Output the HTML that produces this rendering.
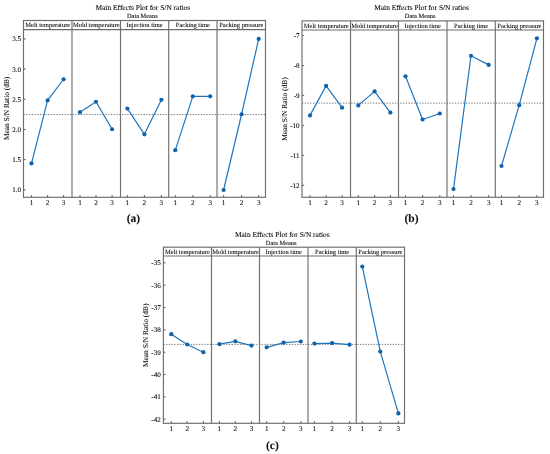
<!DOCTYPE html>
<html><head><meta charset="utf-8"><title>Main Effects Plots for S/N ratios</title>
<style>html,body{margin:0;padding:0;background:#fff;}svg{display:block;}text{text-rendering:geometricPrecision;stroke:#000;stroke-width:0.07px;}</style></head>
<body><svg width="550" height="454" viewBox="0 0 550 454" style="font-family:'Liberation Serif', 'Times New Roman', serif">
<rect width="550" height="454" fill="#fff"/>
<g id="plot-a">
<text x="142.8" y="10.3" font-size="7.45" text-anchor="middle" fill="#000">Main Effects Plot for S/N ratios</text>
<text x="142.3" y="17.6" font-size="6.4" text-anchor="middle" fill="#000">Data Means</text>
<text transform="translate(8.8,108.4) rotate(-90)" font-size="7.4" text-anchor="middle" fill="#000">Mean S/N Ratio (dB)</text>
<line x1="23.5" y1="114.55" x2="265.5" y2="114.55" stroke="#6a6a6a" stroke-width="0.9" stroke-dasharray="1.35 1.38"/>
<line x1="72" y1="20.5" x2="72" y2="197.3" stroke="#707070" stroke-width="1.15"/>
<line x1="120.5" y1="20.5" x2="120.5" y2="197.3" stroke="#707070" stroke-width="1.15"/>
<line x1="168.7" y1="20.5" x2="168.7" y2="197.3" stroke="#707070" stroke-width="1.15"/>
<line x1="217" y1="20.5" x2="217" y2="197.3" stroke="#707070" stroke-width="1.15"/>
<line x1="23.5" y1="29.6" x2="265.5" y2="29.6" stroke="#6c6c6c" stroke-width="1.15"/>
<rect x="23.5" y="20.5" width="242" height="176.8" fill="none" stroke="#6c6c6c" stroke-width="1.15"/>
<text x="47.75" y="27.3" font-size="6.5" text-anchor="middle" fill="#000">Melt temperature</text>
<text x="96.25" y="27.3" font-size="6.5" text-anchor="middle" fill="#000">Mold temperature</text>
<text x="144.6" y="27.3" font-size="6.5" text-anchor="middle" fill="#000">Injection time</text>
<text x="192.85" y="27.3" font-size="6.5" text-anchor="middle" fill="#000">Packing time</text>
<text x="241.25" y="27.3" font-size="6.5" text-anchor="middle" fill="#000">Packing pressure</text>
<line x1="23.5" y1="38.9" x2="25.7" y2="38.9" stroke="#6c6c6c" stroke-width="1.1"/>
<text x="21" y="41.3" font-size="7.1" text-anchor="end" fill="#000">3.5</text>
<line x1="23.5" y1="69.1" x2="25.7" y2="69.1" stroke="#6c6c6c" stroke-width="1.1"/>
<text x="21" y="71.5" font-size="7.1" text-anchor="end" fill="#000">3.0</text>
<line x1="23.5" y1="99.3" x2="25.7" y2="99.3" stroke="#6c6c6c" stroke-width="1.1"/>
<text x="21" y="101.7" font-size="7.1" text-anchor="end" fill="#000">2.5</text>
<line x1="23.5" y1="129.5" x2="25.7" y2="129.5" stroke="#6c6c6c" stroke-width="1.1"/>
<text x="21" y="131.9" font-size="7.1" text-anchor="end" fill="#000">2.0</text>
<line x1="23.5" y1="159.6" x2="25.7" y2="159.6" stroke="#6c6c6c" stroke-width="1.1"/>
<text x="21" y="162" font-size="7.1" text-anchor="end" fill="#000">1.5</text>
<line x1="23.5" y1="189.9" x2="25.7" y2="189.9" stroke="#6c6c6c" stroke-width="1.1"/>
<text x="21" y="192.3" font-size="7.1" text-anchor="end" fill="#000">1.0</text>
<line x1="31.5" y1="197.3" x2="31.5" y2="195.1" stroke="#6c6c6c" stroke-width="1.1"/>
<text x="31.5" y="205.2" font-size="7.2" text-anchor="middle" fill="#000">1</text>
<line x1="47.6" y1="197.3" x2="47.6" y2="195.1" stroke="#6c6c6c" stroke-width="1.1"/>
<text x="47.6" y="205.2" font-size="7.2" text-anchor="middle" fill="#000">2</text>
<line x1="63.6" y1="197.3" x2="63.6" y2="195.1" stroke="#6c6c6c" stroke-width="1.1"/>
<text x="63.6" y="205.2" font-size="7.2" text-anchor="middle" fill="#000">3</text>
<line x1="80" y1="197.3" x2="80" y2="195.1" stroke="#6c6c6c" stroke-width="1.1"/>
<text x="80" y="205.2" font-size="7.2" text-anchor="middle" fill="#000">1</text>
<line x1="96" y1="197.3" x2="96" y2="195.1" stroke="#6c6c6c" stroke-width="1.1"/>
<text x="96" y="205.2" font-size="7.2" text-anchor="middle" fill="#000">2</text>
<line x1="112.1" y1="197.3" x2="112.1" y2="195.1" stroke="#6c6c6c" stroke-width="1.1"/>
<text x="112.1" y="205.2" font-size="7.2" text-anchor="middle" fill="#000">3</text>
<line x1="127.4" y1="197.3" x2="127.4" y2="195.1" stroke="#6c6c6c" stroke-width="1.1"/>
<text x="127.4" y="205.2" font-size="7.2" text-anchor="middle" fill="#000">1</text>
<line x1="144.4" y1="197.3" x2="144.4" y2="195.1" stroke="#6c6c6c" stroke-width="1.1"/>
<text x="144.4" y="205.2" font-size="7.2" text-anchor="middle" fill="#000">2</text>
<line x1="161.4" y1="197.3" x2="161.4" y2="195.1" stroke="#6c6c6c" stroke-width="1.1"/>
<text x="161.4" y="205.2" font-size="7.2" text-anchor="middle" fill="#000">3</text>
<line x1="175.3" y1="197.3" x2="175.3" y2="195.1" stroke="#6c6c6c" stroke-width="1.1"/>
<text x="175.3" y="205.2" font-size="7.2" text-anchor="middle" fill="#000">1</text>
<line x1="192.8" y1="197.3" x2="192.8" y2="195.1" stroke="#6c6c6c" stroke-width="1.1"/>
<text x="192.8" y="205.2" font-size="7.2" text-anchor="middle" fill="#000">2</text>
<line x1="210.2" y1="197.3" x2="210.2" y2="195.1" stroke="#6c6c6c" stroke-width="1.1"/>
<text x="210.2" y="205.2" font-size="7.2" text-anchor="middle" fill="#000">3</text>
<line x1="223.6" y1="197.3" x2="223.6" y2="195.1" stroke="#6c6c6c" stroke-width="1.1"/>
<text x="223.6" y="205.2" font-size="7.2" text-anchor="middle" fill="#000">1</text>
<line x1="241.6" y1="197.3" x2="241.6" y2="195.1" stroke="#6c6c6c" stroke-width="1.1"/>
<text x="241.6" y="205.2" font-size="7.2" text-anchor="middle" fill="#000">2</text>
<line x1="258.7" y1="197.3" x2="258.7" y2="195.1" stroke="#6c6c6c" stroke-width="1.1"/>
<text x="258.7" y="205.2" font-size="7.2" text-anchor="middle" fill="#000">3</text>
<polyline points="31.5,163.45 47.6,100.45 63.6,79.25" fill="none" stroke="#2075bd" stroke-width="1.2" stroke-linejoin="round"/>
<circle cx="31.5" cy="163.45" r="2.1" fill="#0f63ad"/>
<circle cx="47.6" cy="100.45" r="2.1" fill="#0f63ad"/>
<circle cx="63.6" cy="79.25" r="2.1" fill="#0f63ad"/>
<polyline points="80,112.15 96,101.75 112.1,129.25" fill="none" stroke="#2075bd" stroke-width="1.2" stroke-linejoin="round"/>
<circle cx="80" cy="112.15" r="2.1" fill="#0f63ad"/>
<circle cx="96" cy="101.75" r="2.1" fill="#0f63ad"/>
<circle cx="112.1" cy="129.25" r="2.1" fill="#0f63ad"/>
<polyline points="127.4,108.55 144.4,134.35 161.4,99.75" fill="none" stroke="#2075bd" stroke-width="1.2" stroke-linejoin="round"/>
<circle cx="127.4" cy="108.55" r="2.1" fill="#0f63ad"/>
<circle cx="144.4" cy="134.35" r="2.1" fill="#0f63ad"/>
<circle cx="161.4" cy="99.75" r="2.1" fill="#0f63ad"/>
<polyline points="175.3,150.15 192.8,96.35 210.2,96.35" fill="none" stroke="#2075bd" stroke-width="1.2" stroke-linejoin="round"/>
<circle cx="175.3" cy="150.15" r="2.1" fill="#0f63ad"/>
<circle cx="192.8" cy="96.35" r="2.1" fill="#0f63ad"/>
<circle cx="210.2" cy="96.35" r="2.1" fill="#0f63ad"/>
<polyline points="223.6,190 241.6,114.25 258.7,38.9" fill="none" stroke="#2075bd" stroke-width="1.2" stroke-linejoin="round"/>
<circle cx="223.6" cy="190" r="2.1" fill="#0f63ad"/>
<circle cx="241.6" cy="114.25" r="2.1" fill="#0f63ad"/>
<circle cx="258.7" cy="38.9" r="2.1" fill="#0f63ad"/>
<text x="133.45" y="222.1" font-size="11.5" font-weight="bold" text-anchor="middle" fill="#111" stroke="none">(a)</text>
</g>
<g id="plot-b">
<text x="421.5" y="10.3" font-size="7.45" text-anchor="middle" fill="#000">Main Effects Plot for S/N ratios</text>
<text x="420.2" y="17.6" font-size="6.4" text-anchor="middle" fill="#000">Data Means</text>
<text transform="translate(287,109.1) rotate(-90)" font-size="7.4" text-anchor="middle" fill="#000">Mean S/N Ratio (dB)</text>
<line x1="302" y1="103.1" x2="543.5" y2="103.1" stroke="#6a6a6a" stroke-width="0.9" stroke-dasharray="1.35 1.38"/>
<line x1="350.5" y1="20.9" x2="350.5" y2="197.3" stroke="#707070" stroke-width="1.15"/>
<line x1="398.5" y1="20.9" x2="398.5" y2="197.3" stroke="#707070" stroke-width="1.15"/>
<line x1="447" y1="20.9" x2="447" y2="197.3" stroke="#707070" stroke-width="1.15"/>
<line x1="495.3" y1="20.9" x2="495.3" y2="197.3" stroke="#707070" stroke-width="1.15"/>
<line x1="302" y1="29.95" x2="543.5" y2="29.95" stroke="#6c6c6c" stroke-width="1.15"/>
<rect x="302" y="20.9" width="241.5" height="176.4" fill="none" stroke="#6c6c6c" stroke-width="1.15"/>
<text x="326.25" y="27.65" font-size="6.5" text-anchor="middle" fill="#000">Melt temperature</text>
<text x="374.5" y="27.65" font-size="6.5" text-anchor="middle" fill="#000">Mold temperature</text>
<text x="422.75" y="27.65" font-size="6.5" text-anchor="middle" fill="#000">Injection time</text>
<text x="471.15" y="27.65" font-size="6.5" text-anchor="middle" fill="#000">Packing time</text>
<text x="519.4" y="27.65" font-size="6.5" text-anchor="middle" fill="#000">Packing pressure</text>
<line x1="302" y1="35.6" x2="304.2" y2="35.6" stroke="#6c6c6c" stroke-width="1.1"/>
<text x="299.6" y="38" font-size="7.1" text-anchor="end" fill="#000">-7</text>
<line x1="302" y1="65.6" x2="304.2" y2="65.6" stroke="#6c6c6c" stroke-width="1.1"/>
<text x="299.6" y="68" font-size="7.1" text-anchor="end" fill="#000">-8</text>
<line x1="302" y1="95.5" x2="304.2" y2="95.5" stroke="#6c6c6c" stroke-width="1.1"/>
<text x="299.6" y="97.9" font-size="7.1" text-anchor="end" fill="#000">-9</text>
<line x1="302" y1="125.4" x2="304.2" y2="125.4" stroke="#6c6c6c" stroke-width="1.1"/>
<text x="299.6" y="127.8" font-size="7.1" text-anchor="end" fill="#000">-10</text>
<line x1="302" y1="155.3" x2="304.2" y2="155.3" stroke="#6c6c6c" stroke-width="1.1"/>
<text x="299.6" y="157.7" font-size="7.1" text-anchor="end" fill="#000">-11</text>
<line x1="302" y1="185.3" x2="304.2" y2="185.3" stroke="#6c6c6c" stroke-width="1.1"/>
<text x="299.6" y="187.7" font-size="7.1" text-anchor="end" fill="#000">-12</text>
<line x1="310" y1="197.3" x2="310" y2="195.1" stroke="#6c6c6c" stroke-width="1.1"/>
<text x="310" y="205.2" font-size="7.2" text-anchor="middle" fill="#000">1</text>
<line x1="326.1" y1="197.3" x2="326.1" y2="195.1" stroke="#6c6c6c" stroke-width="1.1"/>
<text x="326.1" y="205.2" font-size="7.2" text-anchor="middle" fill="#000">2</text>
<line x1="342.1" y1="197.3" x2="342.1" y2="195.1" stroke="#6c6c6c" stroke-width="1.1"/>
<text x="342.1" y="205.2" font-size="7.2" text-anchor="middle" fill="#000">3</text>
<line x1="358.3" y1="197.3" x2="358.3" y2="195.1" stroke="#6c6c6c" stroke-width="1.1"/>
<text x="358.3" y="205.2" font-size="7.2" text-anchor="middle" fill="#000">1</text>
<line x1="374.6" y1="197.3" x2="374.6" y2="195.1" stroke="#6c6c6c" stroke-width="1.1"/>
<text x="374.6" y="205.2" font-size="7.2" text-anchor="middle" fill="#000">2</text>
<line x1="390.4" y1="197.3" x2="390.4" y2="195.1" stroke="#6c6c6c" stroke-width="1.1"/>
<text x="390.4" y="205.2" font-size="7.2" text-anchor="middle" fill="#000">3</text>
<line x1="405.5" y1="197.3" x2="405.5" y2="195.1" stroke="#6c6c6c" stroke-width="1.1"/>
<text x="405.5" y="205.2" font-size="7.2" text-anchor="middle" fill="#000">1</text>
<line x1="422.6" y1="197.3" x2="422.6" y2="195.1" stroke="#6c6c6c" stroke-width="1.1"/>
<text x="422.6" y="205.2" font-size="7.2" text-anchor="middle" fill="#000">2</text>
<line x1="439.8" y1="197.3" x2="439.8" y2="195.1" stroke="#6c6c6c" stroke-width="1.1"/>
<text x="439.8" y="205.2" font-size="7.2" text-anchor="middle" fill="#000">3</text>
<line x1="453.5" y1="197.3" x2="453.5" y2="195.1" stroke="#6c6c6c" stroke-width="1.1"/>
<text x="453.5" y="205.2" font-size="7.2" text-anchor="middle" fill="#000">1</text>
<line x1="471" y1="197.3" x2="471" y2="195.1" stroke="#6c6c6c" stroke-width="1.1"/>
<text x="471" y="205.2" font-size="7.2" text-anchor="middle" fill="#000">2</text>
<line x1="488.7" y1="197.3" x2="488.7" y2="195.1" stroke="#6c6c6c" stroke-width="1.1"/>
<text x="488.7" y="205.2" font-size="7.2" text-anchor="middle" fill="#000">3</text>
<line x1="501.5" y1="197.3" x2="501.5" y2="195.1" stroke="#6c6c6c" stroke-width="1.1"/>
<text x="501.5" y="205.2" font-size="7.2" text-anchor="middle" fill="#000">1</text>
<line x1="519.2" y1="197.3" x2="519.2" y2="195.1" stroke="#6c6c6c" stroke-width="1.1"/>
<text x="519.2" y="205.2" font-size="7.2" text-anchor="middle" fill="#000">2</text>
<line x1="536.9" y1="197.3" x2="536.9" y2="195.1" stroke="#6c6c6c" stroke-width="1.1"/>
<text x="536.9" y="205.2" font-size="7.2" text-anchor="middle" fill="#000">3</text>
<polyline points="310,115.4 326.1,85.9 342.1,107.7" fill="none" stroke="#2075bd" stroke-width="1.2" stroke-linejoin="round"/>
<circle cx="310" cy="115.4" r="2.1" fill="#0f63ad"/>
<circle cx="326.1" cy="85.9" r="2.1" fill="#0f63ad"/>
<circle cx="342.1" cy="107.7" r="2.1" fill="#0f63ad"/>
<polyline points="358.3,105.4 374.6,91.4 390.4,112.6" fill="none" stroke="#2075bd" stroke-width="1.2" stroke-linejoin="round"/>
<circle cx="358.3" cy="105.4" r="2.1" fill="#0f63ad"/>
<circle cx="374.6" cy="91.4" r="2.1" fill="#0f63ad"/>
<circle cx="390.4" cy="112.6" r="2.1" fill="#0f63ad"/>
<polyline points="405.5,76.3 422.6,119.5 439.8,113.5" fill="none" stroke="#2075bd" stroke-width="1.2" stroke-linejoin="round"/>
<circle cx="405.5" cy="76.3" r="2.1" fill="#0f63ad"/>
<circle cx="422.6" cy="119.5" r="2.1" fill="#0f63ad"/>
<circle cx="439.8" cy="113.5" r="2.1" fill="#0f63ad"/>
<polyline points="453.5,189.1 471,55.75 488.7,64.9" fill="none" stroke="#2075bd" stroke-width="1.2" stroke-linejoin="round"/>
<circle cx="453.5" cy="189.1" r="2.1" fill="#0f63ad"/>
<circle cx="471" cy="55.75" r="2.1" fill="#0f63ad"/>
<circle cx="488.7" cy="64.9" r="2.1" fill="#0f63ad"/>
<polyline points="501.5,166 519.2,105.2 536.9,38.3" fill="none" stroke="#2075bd" stroke-width="1.2" stroke-linejoin="round"/>
<circle cx="501.5" cy="166" r="2.1" fill="#0f63ad"/>
<circle cx="519.2" cy="105.2" r="2.1" fill="#0f63ad"/>
<circle cx="536.9" cy="38.3" r="2.1" fill="#0f63ad"/>
<text x="411.5" y="222.1" font-size="11.5" font-weight="bold" text-anchor="middle" fill="#111" stroke="none">(b)</text>
</g>
<g id="plot-c">
<text x="282.3" y="236.8" font-size="7.45" text-anchor="middle" fill="#000">Main Effects Plot for S/N ratios</text>
<text x="281.2" y="244.5" font-size="6.4" text-anchor="middle" fill="#000">Data Means</text>
<text transform="translate(147.7,335.3) rotate(-90)" font-size="7.4" text-anchor="middle" fill="#000">Mean S/N Ratio (dB)</text>
<line x1="163.4" y1="344.4" x2="404.5" y2="344.4" stroke="#6a6a6a" stroke-width="0.9" stroke-dasharray="1.35 1.38"/>
<line x1="211.5" y1="247.2" x2="211.5" y2="423.3" stroke="#707070" stroke-width="1.15"/>
<line x1="259.5" y1="247.2" x2="259.5" y2="423.3" stroke="#707070" stroke-width="1.15"/>
<line x1="308" y1="247.2" x2="308" y2="423.3" stroke="#707070" stroke-width="1.15"/>
<line x1="356.3" y1="247.2" x2="356.3" y2="423.3" stroke="#707070" stroke-width="1.15"/>
<line x1="163.4" y1="256" x2="404.5" y2="256" stroke="#6c6c6c" stroke-width="1.15"/>
<rect x="163.4" y="247.2" width="241.1" height="176.1" fill="none" stroke="#6c6c6c" stroke-width="1.15"/>
<text x="187.45" y="253.7" font-size="6.5" text-anchor="middle" fill="#000">Melt temperature</text>
<text x="235.5" y="253.7" font-size="6.5" text-anchor="middle" fill="#000">Mold temperature</text>
<text x="283.75" y="253.7" font-size="6.5" text-anchor="middle" fill="#000">Injection time</text>
<text x="332.15" y="253.7" font-size="6.5" text-anchor="middle" fill="#000">Packing time</text>
<text x="380.4" y="253.7" font-size="6.5" text-anchor="middle" fill="#000">Packing pressure</text>
<line x1="163.4" y1="262.9" x2="165.6" y2="262.9" stroke="#6c6c6c" stroke-width="1.1"/>
<text x="160.8" y="265.3" font-size="7.1" text-anchor="end" fill="#000">-35</text>
<line x1="163.4" y1="285.2" x2="165.6" y2="285.2" stroke="#6c6c6c" stroke-width="1.1"/>
<text x="160.8" y="287.6" font-size="7.1" text-anchor="end" fill="#000">-36</text>
<line x1="163.4" y1="307.5" x2="165.6" y2="307.5" stroke="#6c6c6c" stroke-width="1.1"/>
<text x="160.8" y="309.9" font-size="7.1" text-anchor="end" fill="#000">-37</text>
<line x1="163.4" y1="329.9" x2="165.6" y2="329.9" stroke="#6c6c6c" stroke-width="1.1"/>
<text x="160.8" y="332.3" font-size="7.1" text-anchor="end" fill="#000">-38</text>
<line x1="163.4" y1="352.2" x2="165.6" y2="352.2" stroke="#6c6c6c" stroke-width="1.1"/>
<text x="160.8" y="354.6" font-size="7.1" text-anchor="end" fill="#000">-39</text>
<line x1="163.4" y1="374.5" x2="165.6" y2="374.5" stroke="#6c6c6c" stroke-width="1.1"/>
<text x="160.8" y="376.9" font-size="7.1" text-anchor="end" fill="#000">-40</text>
<line x1="163.4" y1="396.8" x2="165.6" y2="396.8" stroke="#6c6c6c" stroke-width="1.1"/>
<text x="160.8" y="399.2" font-size="7.1" text-anchor="end" fill="#000">-41</text>
<line x1="163.4" y1="419.1" x2="165.6" y2="419.1" stroke="#6c6c6c" stroke-width="1.1"/>
<text x="160.8" y="421.5" font-size="7.1" text-anchor="end" fill="#000">-42</text>
<line x1="171.3" y1="423.3" x2="171.3" y2="421.1" stroke="#6c6c6c" stroke-width="1.1"/>
<text x="171.3" y="431.2" font-size="7.2" text-anchor="middle" fill="#000">1</text>
<line x1="187.2" y1="423.3" x2="187.2" y2="421.1" stroke="#6c6c6c" stroke-width="1.1"/>
<text x="187.2" y="431.2" font-size="7.2" text-anchor="middle" fill="#000">2</text>
<line x1="203.4" y1="423.3" x2="203.4" y2="421.1" stroke="#6c6c6c" stroke-width="1.1"/>
<text x="203.4" y="431.2" font-size="7.2" text-anchor="middle" fill="#000">3</text>
<line x1="219.4" y1="423.3" x2="219.4" y2="421.1" stroke="#6c6c6c" stroke-width="1.1"/>
<text x="219.4" y="431.2" font-size="7.2" text-anchor="middle" fill="#000">1</text>
<line x1="235.3" y1="423.3" x2="235.3" y2="421.1" stroke="#6c6c6c" stroke-width="1.1"/>
<text x="235.3" y="431.2" font-size="7.2" text-anchor="middle" fill="#000">2</text>
<line x1="251.5" y1="423.3" x2="251.5" y2="421.1" stroke="#6c6c6c" stroke-width="1.1"/>
<text x="251.5" y="431.2" font-size="7.2" text-anchor="middle" fill="#000">3</text>
<line x1="266.7" y1="423.3" x2="266.7" y2="421.1" stroke="#6c6c6c" stroke-width="1.1"/>
<text x="266.7" y="431.2" font-size="7.2" text-anchor="middle" fill="#000">1</text>
<line x1="283.7" y1="423.3" x2="283.7" y2="421.1" stroke="#6c6c6c" stroke-width="1.1"/>
<text x="283.7" y="431.2" font-size="7.2" text-anchor="middle" fill="#000">2</text>
<line x1="300.8" y1="423.3" x2="300.8" y2="421.1" stroke="#6c6c6c" stroke-width="1.1"/>
<text x="300.8" y="431.2" font-size="7.2" text-anchor="middle" fill="#000">3</text>
<line x1="314.4" y1="423.3" x2="314.4" y2="421.1" stroke="#6c6c6c" stroke-width="1.1"/>
<text x="314.4" y="431.2" font-size="7.2" text-anchor="middle" fill="#000">1</text>
<line x1="332.1" y1="423.3" x2="332.1" y2="421.1" stroke="#6c6c6c" stroke-width="1.1"/>
<text x="332.1" y="431.2" font-size="7.2" text-anchor="middle" fill="#000">2</text>
<line x1="349.6" y1="423.3" x2="349.6" y2="421.1" stroke="#6c6c6c" stroke-width="1.1"/>
<text x="349.6" y="431.2" font-size="7.2" text-anchor="middle" fill="#000">3</text>
<line x1="362.3" y1="423.3" x2="362.3" y2="421.1" stroke="#6c6c6c" stroke-width="1.1"/>
<text x="362.3" y="431.2" font-size="7.2" text-anchor="middle" fill="#000">1</text>
<line x1="380.3" y1="423.3" x2="380.3" y2="421.1" stroke="#6c6c6c" stroke-width="1.1"/>
<text x="380.3" y="431.2" font-size="7.2" text-anchor="middle" fill="#000">2</text>
<line x1="398.4" y1="423.3" x2="398.4" y2="421.1" stroke="#6c6c6c" stroke-width="1.1"/>
<text x="398.4" y="431.2" font-size="7.2" text-anchor="middle" fill="#000">3</text>
<polyline points="171.3,334.2 187.2,344.5 203.4,352.2" fill="none" stroke="#2075bd" stroke-width="1.2" stroke-linejoin="round"/>
<circle cx="171.3" cy="334.2" r="2.1" fill="#0f63ad"/>
<circle cx="187.2" cy="344.5" r="2.1" fill="#0f63ad"/>
<circle cx="203.4" cy="352.2" r="2.1" fill="#0f63ad"/>
<polyline points="219.4,344.2 235.3,341.3 251.5,345.6" fill="none" stroke="#2075bd" stroke-width="1.2" stroke-linejoin="round"/>
<circle cx="219.4" cy="344.2" r="2.1" fill="#0f63ad"/>
<circle cx="235.3" cy="341.3" r="2.1" fill="#0f63ad"/>
<circle cx="251.5" cy="345.6" r="2.1" fill="#0f63ad"/>
<polyline points="266.7,347.3 283.7,342.7 300.8,341.5" fill="none" stroke="#2075bd" stroke-width="1.2" stroke-linejoin="round"/>
<circle cx="266.7" cy="347.3" r="2.1" fill="#0f63ad"/>
<circle cx="283.7" cy="342.7" r="2.1" fill="#0f63ad"/>
<circle cx="300.8" cy="341.5" r="2.1" fill="#0f63ad"/>
<polyline points="314.4,343.6 332.1,343.1 349.6,344.7" fill="none" stroke="#2075bd" stroke-width="1.2" stroke-linejoin="round"/>
<circle cx="314.4" cy="343.6" r="2.1" fill="#0f63ad"/>
<circle cx="332.1" cy="343.1" r="2.1" fill="#0f63ad"/>
<circle cx="349.6" cy="344.7" r="2.1" fill="#0f63ad"/>
<polyline points="362.3,266.6 380.3,351.6 398.4,413.4" fill="none" stroke="#2075bd" stroke-width="1.2" stroke-linejoin="round"/>
<circle cx="362.3" cy="266.6" r="2.1" fill="#0f63ad"/>
<circle cx="380.3" cy="351.6" r="2.1" fill="#0f63ad"/>
<circle cx="398.4" cy="413.4" r="2.1" fill="#0f63ad"/>
<text x="272.4" y="448.5" font-size="11.5" font-weight="bold" text-anchor="middle" fill="#111" stroke="none">(c)</text>
</g>
</svg></body></html>
